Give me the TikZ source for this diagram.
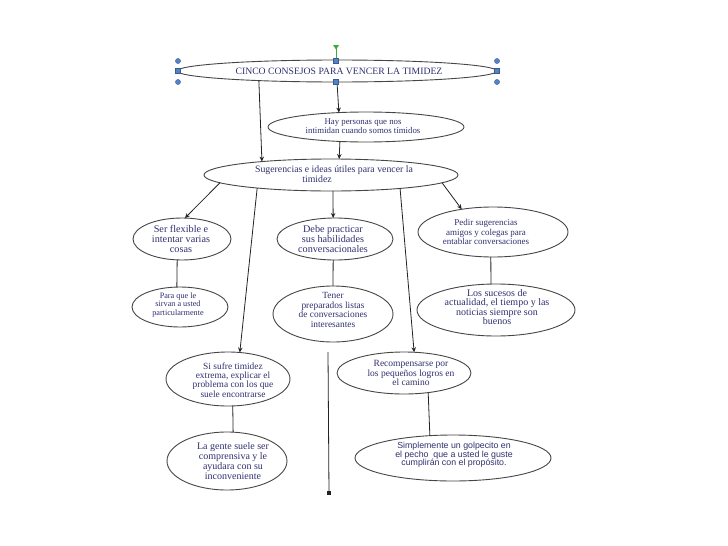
\documentclass[tikz,border=0pt]{standalone}
\usepackage{fontspec}
\newfontfamily\wf{Liberation Serif}
\newfontfamily\wsans{Liberation Sans}
\usetikzlibrary{shapes.geometric,arrows.meta}
\definecolor{ellcol}{RGB}{70,70,70}
\definecolor{txtcol}{RGB}{48,48,112}
\definecolor{linecol}{RGB}{35,35,35}
\definecolor{hblue}{RGB}{84,130,200}
\definecolor{hgreen}{RGB}{60,170,60}
\tikzset{
  ell/.style={draw=ellcol, line width=0.9pt, ellipse, inner sep=0pt, outer sep=0pt},
  txt/.style={text=txtcol, align=center, inner sep=0pt},
  fs/.style={font={\wf\fontsize{#1}{9.6}\selectfont}},
  arr/.style={-{Stealth[length=5pt,width=4.5pt]}, line width=0.8pt, draw=linecol},
  ln/.style={line width=0.8pt, draw=linecol},
  handle/.style={fill=hblue, draw=hblue!70!black, line width=0.3pt}
}
\begin{document}
\begin{tikzpicture}[x=1pt,y=-1pt]
\useasboundingbox (0,0) rectangle (728,546);
\fill[white] (0,0) rectangle (728,546);
% ellipses
\node[ell, minimum width=320pt, minimum height=22pt] (T) at (337,71) {};
\node[ell, minimum width=196pt, minimum height=30pt] (H) at (366,127) {};
\node[ell, minimum width=254pt, minimum height=32pt] (S) at (331,175) {};
\node[ell, minimum width=98pt, minimum height=42pt] (A) at (182,239) {};
\node[ell, minimum width=116pt, minimum height=42pt] (B) at (335,239) {};
\node[ell, minimum width=150pt, minimum height=50pt] (C) at (493,232) {};
\node[ell, minimum width=96pt, minimum height=40pt] (D) at (180,307) {};
\node[ell, minimum width=120pt, minimum height=56pt] (E) at (333,314) {};
\node[ell, minimum width=158pt, minimum height=52pt] (F) at (496,310) {};
\node[ell, minimum width=124pt, minimum height=54pt] (G) at (228,379) {};
\node[ell, minimum width=134pt, minimum height=42pt] (K) at (404,373) {};
\node[ell, minimum width=120pt, minimum height=58pt] (L) at (227,461) {};
\node[ell, minimum width=196pt, minimum height=46pt] (M) at (453,458) {};
% texts
\node[txt, fs=9.7] (tT) at (339,71) {CINCO CONSEJOS PARA VENCER LA TIMIDEZ};
\node[txt, fs=8.8] (tH) at (363,126) {Hay personas que nos\\intimidan cuando somos tímidos};
\node[txt, fs=9.8] (tS) at (334,174) {Sugerencias e ideas útiles para vencer la\\timidez\hspace*{34pt}};
\node[txt, fs=10.2] (tA) at (181,239) {Ser flexible e\\intentar varias\\cosas};
\node[txt, fs=10.2] (tB) at (333,239) {Debe practicar\\sus habilidades\\conversacionales};
\node[txt, fs=9] (tC) at (486,232) {Pedir sugerencias\\amigos y colegas para\\entablar conversaciones};
\node[txt, font={\wf\fontsize{8.2}{8.6}\selectfont}] (tD) at (178,305) {Para que le\\sirvan a usted\\particularmente};
\node[txt, fs=9.4] (tE) at (333,310) {Tener\\preparados listas\\de conversaciones\\interesantes};
\node[txt, fs=10] (tF) at (497,307) {Los sucesos de\\actualidad, el tiempo y las\\noticias siempre son\\buenos};
\node[txt, font={\wf\fontsize{9.4}{9.4}\selectfont}] (tG) at (233,380) {Si sufre timidez\\extrema, explicar el\\problema con los que\\suele encontrarse};
\node[txt, fs=9.5] (tK) at (411,373) {Recompensarse por\\los pequeños logros en\\el camino};
\node[txt, font={\wf\fontsize{10}{8.4}\selectfont}] (tL) at (233,461) {La gente suele ser\\comprensiva y le\\ayudara con su\\inconveniente};
\node[txt, font={\wsans\fontsize{8.8}{8.6}\selectfont}] (tM) at (454,455) {Simplemente un golpecito en\\el pecho \ que a usted le guste\\cumplirán con el propósito.};
% arrows
\draw[arr] (T.187) -- (S.169);
\draw[arr] (T.270) -- (H.152);
\draw[arr] (H.209) -- (S.63);
\draw[arr] (S.184) -- (A.82);
\draw[arr] (S.277) -- (B.95);
\draw[arr] (S.356.5) -- (C.144);
\draw[arr] (S.190) -- (G.66);
\draw[arr] (S.349) -- (K.64);
% plain lines
\draw[ln] (A.257) -- (D.99);
\draw[ln] (B.265) -- (E.90);
\draw[ln] (C.265) -- (F.101);
\draw[ln] (G.280.5) -- (L.78);
\draw[ln] (K.321) -- (M.136);
\coordinate (u1) at (328,352);
\coordinate (u2) at (329,494);
\draw[ln] (u1) -- (u2);
\fill[linecol] (327.3,491) rectangle (330.7,495);
% selection handles
\draw[hgreen, line width=0.8pt] (336,61) -- (336,48);
\fill[hgreen] (333,45) -- (339,45) -- (336,49.5) -- cycle;
\foreach \p in {(178,61),(178,82),(497,61),(497,82)} \filldraw[handle] \p circle (2.6);
\foreach \p in {(178,71),(497,71),(336,61),(336,82)} \filldraw[handle] \p ++(-2.6,-2.6) rectangle ++(5.2,5.2);
\end{tikzpicture}
\end{document}
